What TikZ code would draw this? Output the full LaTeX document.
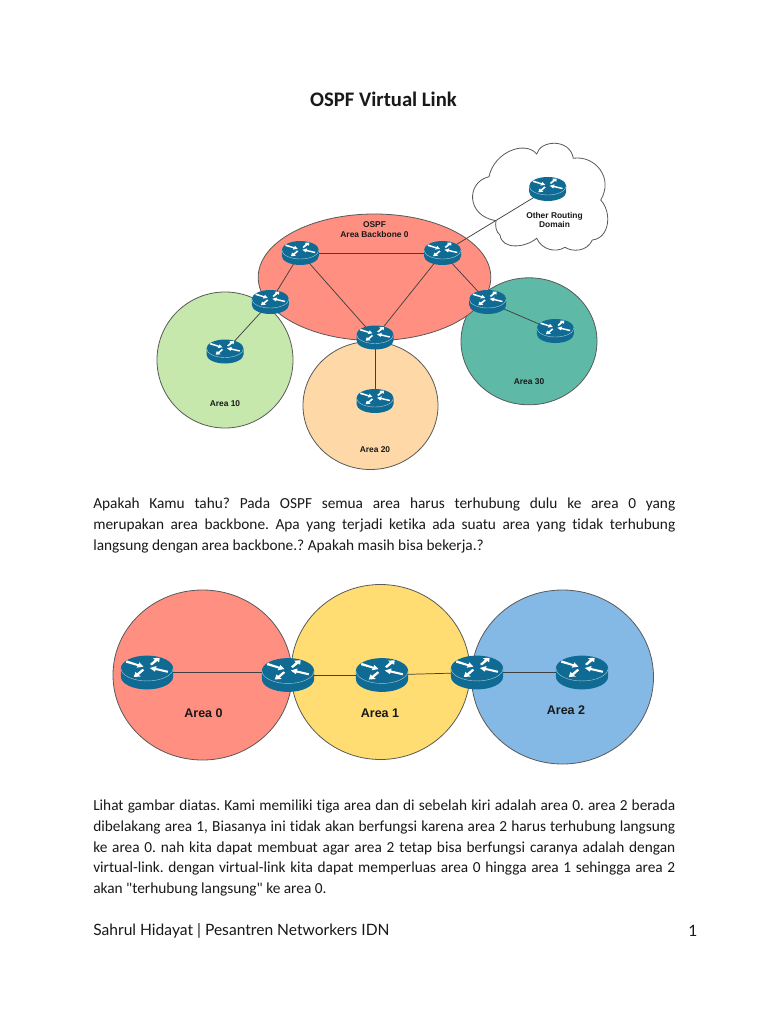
\documentclass[tikz,border=0pt]{standalone}
\usepackage{fontspec}
\setmainfont{Carlito}[Ligatures={TeXOff,NoCommon}]
\newfontfamily\labfont{Liberation Sans}
\newfontfamily\footfont{Lato}
\usetikzlibrary{arrows.meta}
\definecolor{routerblue}{HTML}{0F6A94}
\definecolor{areared}{HTML}{FF8F80}
\definecolor{areagreen}{HTML}{C6E8AC}
\definecolor{areapeach}{HTML}{FFD8A8}
\definecolor{areateal}{HTML}{5EBAA6}
\definecolor{areayellow}{HTML}{FFDD72}
\definecolor{areablue}{HTML}{85B9E5}
\tikzset{
  x=0.75pt,y=-0.75pt,
  area/.style={draw=black!65,line width=0.6pt},
  link/.style={draw=black!75,line width=0.55pt},
  rpoint/.style={inner sep=0pt,minimum size=0pt},
  smalllab/.style={font=\labfont\bfseries\fontsize{6.3}{7}\selectfont,align=center,text=black!90,inner sep=0pt},
  biglab/.style={font=\labfont\bfseries\fontsize{9.4}{11}\selectfont,text=black!90,inner sep=0pt},
  bodytext/.style={font=\fontsize{11.5}{15.5}\selectfont,text width=436.5pt,align=justify,inner sep=0pt,anchor=north west,text=black!90},
  router/.pic={
    \fill[routerblue] (-18.5,-3) -- (-18.5,3) arc[start angle=180,end angle=0,x radius=18.5,y radius=9] -- (18.5,-3) -- cycle;
    \fill[routerblue] (0,-3) ellipse[x radius=18.5,y radius=9];
    \draw[white!65!routerblue,line width=0.3pt] (-18.5,-3) arc[start angle=180,end angle=0,x radius=18.5,y radius=9];
    \fill[white] (-15,-7) -- (-14.4,-8.6) -- (-6,-5.8) -- (-5.4,-7.2) -- (-2.6,-4.2) -- (-7.4,-3.4) -- (-6.6,-4.6) -- cycle;
    \fill[white] (15,-1.2) -- (14.6,0.2) -- (6,-1.8) -- (5.6,-0.6) -- (2,-3.2) -- (6.8,-4.6) -- (6.4,-3.2) -- cycle;
    \fill[white] (2.2,-6) -- (3.4,-5) -- (7.4,-8.2) -- (8.6,-7.2) -- (9,-10.4) -- (4.2,-10.2) -- (5.6,-9.2) -- cycle;
    \fill[white] (-2,-1.6) -- (-3.2,-2.6) -- (-7,0.6) -- (-8.2,-0.4) -- (-9.4,3.2) -- (-4.4,2.8) -- (-5.8,1.8) -- cycle;
  }
}
\begin{document}
\frenchspacing
\begin{tikzpicture}
\useasboundingbox (0,0) rectangle (768,1024);
\fill[white] (0,0) rectangle (768,1024);

\node[font=\bfseries\fontsize{15.5}{18}\selectfont,text=black!90,inner sep=0pt] (title) at (383.5,99) {OSPF Virtual Link};

% first diagram
\draw[area,fill=areagreen] (225,360) circle[radius=68];
\draw[area,fill=areapeach] (370.5,405.5) ellipse[x radius=67.5,y radius=64];
\draw[area,fill=areateal] (529,341.3) ellipse[x radius=68,y radius=63.5];
\draw[area,fill=areared] (374.5,277.3) ellipse[x radius=116.3,y radius=63.3];
\draw[area,fill=white] (489,176.7)
  .. controls (494,152) and (525,140) .. (536.7,154)
  .. controls (540,140) and (570,138) .. (573.3,158.3)
  .. controls (595,155) and (614,178) .. (600.7,200)
  .. controls (612,212) and (610,238) .. (592.3,240)
  .. controls (587,252) and (572,252) .. (565,247.3)
  .. controls (556,253) and (542,250) .. (536.7,238.3)
  .. controls (525,248) and (502,250) .. (500,235)
  .. controls (496,232) and (495,226) .. (496,220.7)
  .. controls (466,216) and (466,182) .. cycle;

\node[rpoint] (ra) at (300.3,253) {};
\node[rpoint] (rb) at (442.5,253) {};
\node[rpoint] (rc) at (270.3,302) {};
\node[rpoint] (rd) at (375,337.5) {};
\node[rpoint] (re) at (487.7,302) {};
\node[rpoint] (rf) at (547.7,189) {};
\node[rpoint] (rg) at (225,351.5) {};
\node[rpoint] (rh) at (375,401) {};
\node[rpoint] (ri) at (555.3,331) {};

\draw[link] (ra) -- (rb);
\draw[link] (ra) -- (rc);
\draw[link] (ra) -- (rd);
\draw[link] (rb) -- (rd);
\draw[link] (rb) -- (re);
\draw[link] (rb) -- (rf);
\draw[link] (rc) -- (rg);
\draw[link] (rd) -- (rh);
\draw[link] (re) -- (ri);

\foreach \n in {ra,rb,rc,rd,re,rf,rg,rh,ri} \pic at (\n) {router};

\node[smalllab] (lospf) at (374.5,229.5) {OSPF\\Area Backbone 0};
\node[smalllab] (lother) at (554.5,220) {Other Routing\\Domain};
\node[smalllab] (l10) at (225,404) {Area 10};
\node[smalllab] (l20) at (375,450) {Area 20};
\node[smalllab] (l30) at (529,382) {Area 30};

% paragraph 1
\node[bodytext] (p1) at (93,498) {Apakah Kamu tahu? Pada OSPF semua area harus terhubung dulu ke area 0 yang\linebreak
merupakan area backbone. Apa yang terjadi ketika ada suatu area yang tidak terhubung\linebreak
langsung dengan area backbone.? Apakah masih bisa bekerja.?};

% second diagram
\draw[area,fill=areared] (202.5,675) ellipse[x radius=89.5,y radius=85];
\draw[area,fill=areablue] (562.5,677) ellipse[x radius=91,y radius=87];
\draw[area,fill=areayellow] (380.5,672) ellipse[x radius=89.5,y radius=87.5];

\node[rpoint] (sa) at (147,672.5) {};
\node[rpoint] (sb) at (288,675) {};
\node[rpoint] (sc) at (382,675) {};
\node[rpoint] (sd) at (477,672.5) {};
\node[rpoint] (se) at (582,672.5) {};

\draw[link] (sa) -- (sa -| sb);
\draw[link] (sb) -- (sc);
\draw[link] (sc) -- (sd);
\draw[link] (sd) -- (se);

\foreach \n in {sa,sb,sc,sd,se} \pic[scale=1.41] at (\n) {router};

\node[biglab] (l0) at (203.5,713) {Area 0};
\node[biglab] (l1) at (380,713) {Area 1};
\node[biglab] (l2) at (566,710.5) {Area 2};

% paragraph 2
\node[bodytext] (p2) at (93,800) {Lihat gambar diatas. Kami memiliki tiga area dan di sebelah kiri adalah area 0. area 2 berada\linebreak
dibelakang area 1, Biasanya ini tidak akan berfungsi karena area 2 harus terhubung langsung\linebreak
ke area 0. nah kita dapat membuat agar area 2 tetap bisa berfungsi caranya adalah dengan\linebreak
virtual-link. dengan virtual-link kita dapat memperluas area 0 hingga area 1 sehingga area 2\linebreak
akan "terhubung langsung" ke area 0.};

% footer
\node[font=\footfont\fontsize{11.7}{14}\selectfont,text=black!90,inner sep=0pt,anchor=west] (foot) at (93,931) {Sahrul Hidayat | Pesantren Networkers IDN};
\node[font=\footfont\fontsize{11.7}{14}\selectfont,text=black!90,inner sep=0pt] (page) at (693,931) {1};
\end{tikzpicture}
\end{document}
